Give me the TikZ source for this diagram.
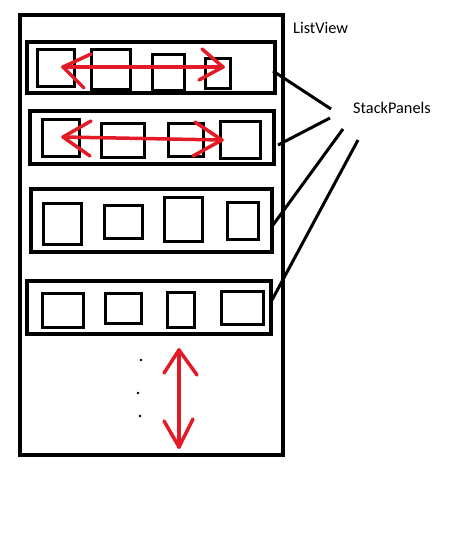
\documentclass[tikz,border=0pt]{standalone}
\usepackage{fontspec}
\setmainfont{Carlito}
\definecolor{paintred}{HTML}{E31B26}
\newcommand\bx[6]{\node[#6, minimum width={(#4-#2)*1pt}, minimum height={(#5-#3)*1pt}] (#1) at ({(#2+#4)/2},{(#3+#5)/2}) {};}
\begin{document}
\begin{tikzpicture}[x=1pt,y=-1pt,
  outerbox/.style={draw=black, line width=4pt, inner sep=0pt, outer sep=0pt, rectangle},
  panelbox/.style={draw=black, line width=3.5pt, inner sep=0pt, outer sep=0pt, rectangle},
  itembox/.style={draw=black, line width=3pt, inner sep=0pt, outer sep=0pt, rectangle},
  redline/.style={draw=paintred, line width=3.5pt, line cap=round, line join=round},
  leader/.style={draw=black, line width=3pt},
  lbl/.style={font=\fontsize{16.3}{19}\selectfont, inner sep=0pt, anchor=base west}]
\useasboundingbox (0,0) rectangle (474,538);
% outer ListView
\bx{lv}{20}{15}{283}{455}{outerbox}
% panel 1
\bx{p1}{27}{42}{275}{93}{panelbox}
\bx{p1a}{37}{49}{74}{86}{itembox}
\bx{p1b}{91}{49}{130}{89}{itembox}
\bx{p1c}{152}{54}{184}{90}{itembox}
\bx{p1d}{205}{58}{230}{88}{itembox}
% panel 2
\bx{p2}{30}{111}{274}{164}{panelbox}
\bx{p2a}{42}{119}{79}{156}{itembox}
\bx{p2b}{101}{123}{144}{157}{itembox}
\bx{p2c}{168}{123}{203}{156}{itembox}
\bx{p2d}{220}{121}{260}{158}{itembox}
% panel 3
\bx{p3}{31}{189}{272}{252}{panelbox}
\bx{p3a}{43}{203}{81}{244}{itembox}
\bx{p3b}{104}{205}{142}{238}{itembox}
\bx{p3c}{164}{197}{202}{241}{itembox}
\bx{p3d}{227}{202}{258}{239}{itembox}
% panel 4
\bx{p4}{27}{281}{271}{334}{panelbox}
\bx{p4a}{42}{293}{83}{327}{itembox}
\bx{p4b}{105}{293}{141}{323}{itembox}
\bx{p4c}{167}{292}{194}{327}{itembox}
\bx{p4d}{221}{291}{263}{324}{itembox}
% labels
\node[lbl] (lvlabel) at (293,33) {ListView};
\node[lbl] (splabel) at (353,113) {StackPanels};
% leader lines
\coordinate (l1a) at (331,109); \coordinate (l1b) at (273,71);
\coordinate (l2a) at (330,118); \coordinate (l2b) at (278,145);
\coordinate (l3a) at (343,129); \coordinate (l3b) at (273,225);
\coordinate (l4a) at (358,140); \coordinate (l4b) at (272,300);
\draw[leader] (l1a) -- (l1b);
\draw[leader] (l2a) -- (l2b);
\draw[leader] (l3a) -- (l3b);
\draw[leader] (l4a) -- (l4b);
% red arrows, panel 1
\coordinate (r1l) at (63,67); \coordinate (r1r) at (223,67);
\draw[redline] (r1l) -- (r1r);
\draw[redline] (91,54) -- (r1l) -- (84,88);
\draw[redline] (202,49) -- (r1r) -- (199,80);
% red arrows, panel 2
\coordinate (r2l) at (63,137); \coordinate (r2r) at (222,140);
\draw[redline] (r2l) -- (r2r);
\draw[redline] (91,121) -- (r2l) -- (90,156);
\draw[redline] (195,122) -- (r2r) -- (193,156);
% vertical arrow
\coordinate (vt) at (179,350); \coordinate (vb) at (179,447);
\draw[redline] (vt) -- (vb);
\draw[redline] (164,373) -- (vt) -- (197,375);
\draw[redline] (164,421) -- (vb) -- (193,419);
% dots
\fill[black] (141,360) circle (1.3);
\fill[black] (138,393) circle (1.3);
\fill[black] (140,416) circle (1.3);
\end{tikzpicture}
\end{document}
